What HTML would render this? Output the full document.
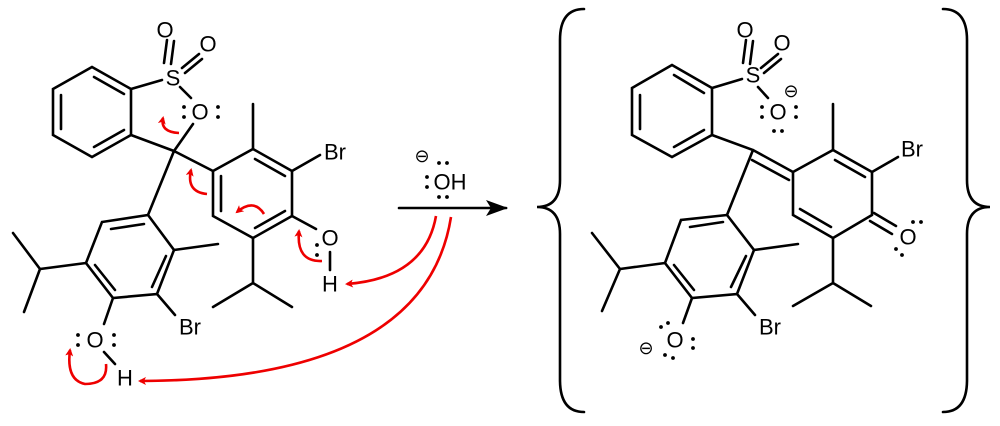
<!DOCTYPE html>
<html><head><style>body{margin:0;background:#fff}svg{display:block}text{font-family:"Liberation Sans",Arial,sans-serif;font-size:22px;fill:#000;text-anchor:middle;dominant-baseline:central}</style></head><body>
<svg width="1000" height="426" viewBox="0 0 1000 426" xmlns="http://www.w3.org/2000/svg">
<defs><marker id="rh" markerWidth="8" markerHeight="8" refX="6" refY="4" orient="auto" markerUnits="userSpaceOnUse" viewBox="0 0 8 8"><path d="M0,0 L8,4 L0,8 L2,4Z" fill="#e00"/></marker>
<marker id="bh" markerWidth="22" markerHeight="16" refX="20" refY="8" orient="auto" markerUnits="userSpaceOnUse"><path d="M0,0 L22,8 L0,16 L5,8Z" fill="#000"/></marker></defs>
<g stroke="#000" stroke-width="2.6" fill="none" stroke-linecap="round">
<path d="M92,67 L131,89 L131,135 L92,157 L53,135 L53,89 Z"/>
<path d="M94,77 L124,94 M61,95 L61,129 M94,147 L124,130"/>
<path d="M131,89 L162,80 M180,87 L191,98 M193,124 L174,151 L131,135 M174,151 L213,171 M174,151 L148,215"/>
<path d="M164,63 L167,40 M171,64 L174,41 M182,68 L199,54 M185,73 L202,59"/>
<path d="M213,171 L253,149 L292,171 L292,216 L253,238 L213,216 Z"/>
<path d="M255,159 L285,176 M221,176 L221,211 M255,228 L285,211"/>
<path d="M253,149 L253,104 M292,171 L320,155 M292,216 L316,229 M330,252 L330,270"/>
<path d="M253,238 L253,283 L213,307 M253,283 L292,307"/>
<path d="M148,215 L102,222 L86,263 L113,298 L157,294 L174,250 Z"/>
<path d="M111,229 L144,224 M166,256 L152,287 M95,265 L115,290"/>
<path d="M174,250 L218,244 M157,294 L175,315 M113,298 L104,324 M104,352 L115,364"/>
<path d="M86,263 L40,269 L13,233 M40,269 L24,312"/>
<path d="M399,208 L506,208" marker-end="url(#bh)"/>
<path d="M672,65 L712,88 L712,135 L672,157 L632,135 L632,88 Z"/>
<path d="M674,75 L704,93 M640,95 L640,129 M674,147 L704,130"/>
<path d="M712,88 L742,79 M758,87 L768,98 M712,135 L753,150 L793,172 M752,160 L789,180 M753,150 L727,215"/>
<path d="M743,63 L746,40 M750,64 L753,41 M761,68 L778,54 M764,73 L781,59"/>
<path d="M793,172 L833,150 L872,172 L872,215 L833,238 L793,215 Z"/>
<path d="M835,160 L865,177 M800,209 L831,227"/>
<path d="M833,150 L833,104 M872,172 L898,157 M870,221 L892,234 M874,213 L896,226"/>
<path d="M833,238 L833,283 L793,306 M833,283 L871,306"/>
<path d="M727,215 L681,220 L665,263 L692,298 L737,294 L754,250 Z"/>
<path d="M690,227 L723,222 M746,256 L731,287 M674,265 L694,290"/>
<path d="M754,250 L798,244 M737,294 L755,315 M692,298 L683,323"/>
<path d="M665,263 L620,269 L592,233 M620,269 L602,311"/>
<path d="M584,9 Q560,9 560,40 L560,180 Q560,207 537,207 Q560,207 560,234 L560,380 Q560,412 584,412"/>
<path d="M943,9 Q967,9 967,40 L967,180 Q967,207 990,207 Q967,207 967,234 L967,380 Q967,412 943,412"/>
</g>
<g fill="none" stroke="#e00" stroke-width="2.6">
<path d="M179,133 Q160,132 163,118" marker-end="url(#rh)"/>
<path d="M207,194 Q186,192 191,170" marker-end="url(#rh)"/>
<path d="M264,214 Q254,198 237,212" marker-end="url(#rh)"/>
<path d="M322,261 Q296,262 299,231" marker-end="url(#rh)"/>
<path d="M106,364 Q108,384 85,384 Q66,380 70,350" marker-end="url(#rh)"/>
<path d="M436,216 Q425,278 347,284" marker-end="url(#rh)"/>
<path d="M451,217 Q425,380 140,381" marker-end="url(#rh)"/>
</g>
<g fill="#000">
<circle cx="184" cy="107" r="1.9"/><circle cx="184" cy="117" r="1.9"/><circle cx="218" cy="107" r="1.9"/><circle cx="218" cy="117" r="1.9"/>
<circle cx="317" cy="245" r="1.9"/><circle cx="317" cy="255" r="1.9"/>
<circle cx="78" cy="335" r="1.9"/><circle cx="78" cy="345" r="1.9"/><circle cx="114" cy="335" r="1.9"/><circle cx="114" cy="345" r="1.9"/>
<circle cx="439" cy="163" r="1.9"/><circle cx="447" cy="163" r="1.9"/><circle cx="427" cy="177" r="1.9"/><circle cx="427" cy="187" r="1.9"/><circle cx="439" cy="197" r="1.9"/><circle cx="447" cy="197" r="1.9"/>
<circle cx="762" cy="107" r="1.9"/><circle cx="762" cy="117" r="1.9"/><circle cx="796" cy="107" r="1.9"/><circle cx="796" cy="117" r="1.9"/><circle cx="774" cy="131" r="1.9"/><circle cx="782" cy="131" r="1.9"/>
<circle cx="913" cy="222" r="1.9"/><circle cx="921" cy="222" r="1.9"/><circle cx="896" cy="249" r="1.9"/><circle cx="902" cy="255" r="1.9"/>
<circle cx="661" cy="327" r="1.9"/><circle cx="668" cy="323" r="1.9"/><circle cx="693" cy="339" r="1.9"/><circle cx="693" cy="348" r="1.9"/><circle cx="665" cy="355" r="1.9"/><circle cx="673" cy="358" r="1.9"/>
</g>
<g>
<text x="173" y="78">S</text><text x="165" y="30">O</text><text x="208" y="44">O</text>
<text x="200" y="112">O</text>
<text x="335" y="152">Br</text><text x="330" y="238">O</text><text x="330" y="284">H</text>
<text x="190" y="327">Br</text><text x="95" y="340">O</text><text x="125" y="378">H</text>
<text x="422" y="156" style="font-size:18px">⊖</text><text x="450" y="182">OH</text>
<text x="753" y="75">S</text><text x="745" y="30">O</text><text x="782" y="43">O</text>
<text x="778" y="112">O</text><text x="791" y="91" style="font-size:18px">⊖</text>
<text x="912" y="149">Br</text><text x="908" y="237">O</text>
<text x="770" y="327">Br</text><text x="675" y="340">O</text><text x="646" y="348" style="font-size:18px">⊖</text>
</g>
</svg>
</body></html>
